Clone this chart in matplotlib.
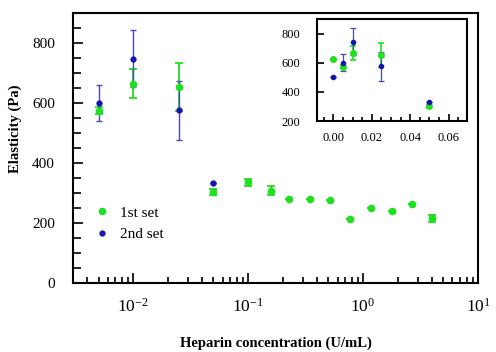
import numpy as np
import matplotlib
matplotlib.use('Agg')
import matplotlib.pyplot as plt
from matplotlib.ticker import MultipleLocator, LogLocator
from matplotlib.lines import Line2D

plt.rcParams['font.family'] = ['Liberation Serif', 'DejaVu Serif']
plt.rcParams['mathtext.fontset'] = 'stix'

# 1st set (green)
conc1 = [0.005, 0.01, 0.025, 0.05, 0.1, 0.158, 0.226, 0.344, 0.52, 0.775, 1.17, 1.77, 2.64, 3.98]
elas1 = [574, 665, 654, 302, 336, 308, 279, 281, 278, 213, 250, 241, 262, 216]
err1 = [12, 48, 80, 10, 12, 14, 0, 0, 0, 0, 0, 0, 0, 11]

# 2nd set (blue)
conc2 = [0.005, 0.01, 0.025, 0.05]
elas2 = [601, 747, 576, 332]
err2 = [60, 95, 98, 0]

# inset (linear x, includes zero concentration)
ins_conc1 = [0.0, 0.005, 0.01, 0.025, 0.05]
ins_elas1 = [630, 574, 665, 654, 302]
ins_err1 = [0, 12, 48, 80, 10]
ins_conc2 = [0.0, 0.005, 0.01, 0.025, 0.05]
ins_elas2 = [500, 601, 747, 576, 332]
ins_err2 = [0, 60, 95, 98, 0]

green = '#1fe01f'
blue = '#1515a8'
blue_err = '#4a4ab0'

fig = plt.figure(figsize=(4.96, 3.52), dpi=100)
ax = fig.add_axes([73/496, 1 - 283/352, (478-73)/496, (283-13)/352])

ax.errorbar(conc1, elas1, yerr=err1, fmt='o', color=green, ms=4.5, elinewidth=1.3,
            capsize=3, capthick=1.3, mec=green)
ax.errorbar(conc2, elas2, yerr=err2, fmt='o', color=blue, ecolor=blue_err, ms=3.5,
            elinewidth=1.0, capsize=2.5, capthick=1.0)

ax.set_xscale('log')
ax.set_xlim(3e-3, 10)
ax.set_ylim(0, 900)
ax.yaxis.set_major_locator(MultipleLocator(200))
ax.yaxis.set_minor_locator(MultipleLocator(50))
ax.xaxis.set_major_locator(LogLocator(base=10, numticks=10))
ax.xaxis.set_minor_locator(LogLocator(base=10, subs=np.arange(2, 10), numticks=20))
ax.tick_params(which='both', direction='in', top=False, right=False, width=1.2)
ax.tick_params(axis='x', which='major', labelsize=12.5, pad=11)
ax.tick_params(axis='y', which='major', labelsize=11, pad=13)
ax.tick_params(which='major', length=7)
ax.tick_params(which='minor', length=4)
ax.tick_params(axis='y', which='minor', length=6)
for s in ax.spines.values():
    s.set_linewidth(1.5)

ax.set_xlabel('Heparin concentration (U/mL)', fontweight='bold', fontsize=10.5, labelpad=15)
ax.set_ylabel('Elasticity (Pa)', fontweight='bold', fontsize=10.5)
ax.yaxis.set_label_coords(-0.125, 0.57)

handles = [Line2D([], [], ls='none', marker='o', color=green, ms=4.5),
           Line2D([], [], ls='none', marker='o', color=blue, ms=3.5)]
ax.legend(handles, ['1st set', '2nd set'], loc='lower left', bbox_to_anchor=(0.01, 0.105),
          frameon=False, fontsize=11, handletextpad=0.4, handlelength=1.5, labelspacing=0.5)

# inset
ins = fig.add_axes([317/496, 1 - 121/352, (467-317)/496, (121-19)/352])
ins.errorbar(ins_conc1, ins_elas1, yerr=ins_err1, fmt='o', color=green, ms=4, elinewidth=1.2,
             capsize=2.5, capthick=1.2)
ins.errorbar(ins_conc2, ins_elas2, yerr=ins_err2, fmt='o', color=blue, ecolor=blue_err, ms=3,
             elinewidth=0.9, capsize=2, capthick=0.9)
ins.set_xlim(-0.0086, 0.0696)
ins.set_ylim(200, 902)
ins.xaxis.set_major_locator(MultipleLocator(0.02))
ins.xaxis.set_minor_locator(MultipleLocator(0.005))
ins.yaxis.set_major_locator(MultipleLocator(200))
ins.xaxis.set_major_formatter(matplotlib.ticker.FormatStrFormatter('%.2f'))
ins.tick_params(which='both', direction='in', top=False, right=False, labelsize=9, width=1.2)
ins.tick_params(axis='x', pad=8)
ins.tick_params(axis='y', pad=12)
ins.tick_params(which='major', length=5)
ins.tick_params(which='minor', length=3)
for s in ins.spines.values():
    s.set_linewidth(1.5)

fig.savefig('out.png', dpi=100)
